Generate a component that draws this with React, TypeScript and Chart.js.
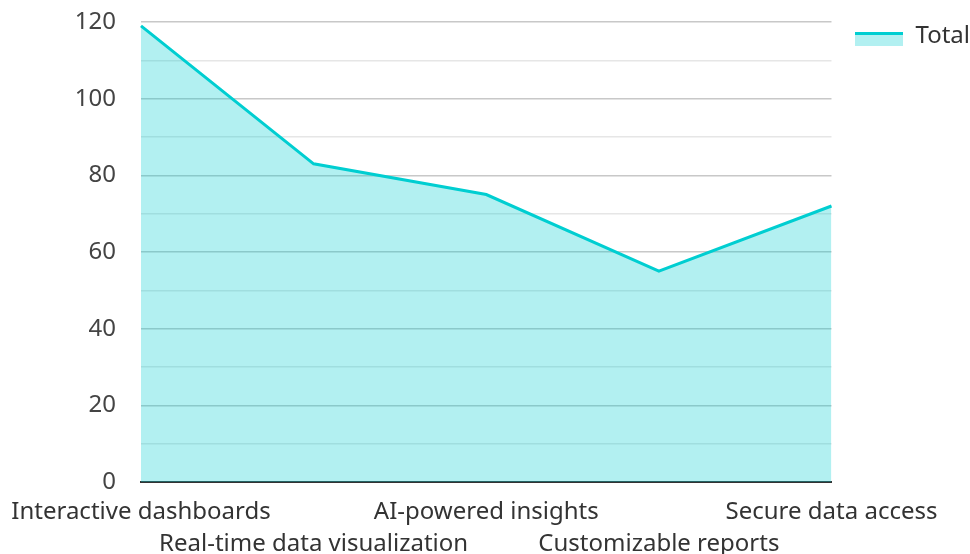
import React, { useEffect, useRef } from "react";
import { Chart, registerables } from "chart.js";

Chart.register(...registerables);

const categories = [
  "Interactive dashboards",
  "Real-time data visualization",
  "AI-powered insights",
  "Customizable reports",
  "Secure data access",
];
const totalValues = [119, 83, 75, 55, 72];
const seriesLabel = "Total";
const yMin = 0;
const yMax = 120;
const yStep = 10;
const yLabelStep = 20;

const FONT = "'Noto Sans', sans-serif";
const FONT_SIZE = 24;
const LINE_COLOR = "#00CED1";
const FILL_COLOR = "rgba(0,206,209,0.3)";

function legendSwatch(): HTMLCanvasElement {
  const c = document.createElement("canvas");
  c.width = 48;
  c.height = 20;
  const g = c.getContext("2d")!;
  g.fillStyle = FILL_COLOR;
  g.fillRect(0, 6, 48, 14);
  g.fillStyle = LINE_COLOR;
  g.fillRect(0, 6, 48, 3);
  return c;
}

export default function App() {
  const ref = useRef<HTMLCanvasElement | null>(null);
  useEffect(() => {
    document.body.style.margin = "0";
    const ctx = ref.current!;
    const swatch = legendSwatch();
    const chart = new Chart(ctx, {
      type: "line",
      data: {
        labels: categories,
        datasets: [
          {
            label: seriesLabel,
            data: totalValues,
            borderColor: LINE_COLOR,
            backgroundColor: FILL_COLOR,
            borderWidth: 3,
            fill: "origin",
            pointRadius: 0,
            tension: 0,
          },
        ],
      },
      options: {
        animation: false,
        responsive: false,
        maintainAspectRatio: false,
        layout: { padding: { top: 0, right: -10, left: 0, bottom: 0 } },
        plugins: {
          legend: {
            position: "right",
            align: "start",
            labels: {
              font: { family: FONT, size: FONT_SIZE },
              color: "#333333",
              usePointStyle: true,
              pointStyleWidth: 48,
              boxHeight: 14,
              padding: 24,
              generateLabels: () => [
                {
                  text: seriesLabel,
                  pointStyle: swatch,
                  fillStyle: FILL_COLOR,
                  strokeStyle: LINE_COLOR,
                  lineWidth: 0,
                  hidden: false,
                  datasetIndex: 0,
                  fontColor: "#333333",
                },
              ],
            },
          },
          tooltip: { enabled: false },
        },
        scales: {
          x: {
            grid: { display: false },
            border: { display: true, color: "#333333", width: 2 },
            afterFit: (s: any) => {
              s.height = s.height - 12;
              s.paddingLeft = 141;
            },
            ticks: {
              autoSkip: false,
              maxRotation: 0,
              minRotation: 0,
              color: "#333333",
              font: { family: FONT, size: FONT_SIZE, lineHeight: 1.333 },
              padding: 6,
              callback: (v: any, i: number) =>
                i % 2 === 1 ? ["", categories[i]] : categories[i],
            },
          },
          y: {
            min: yMin,
            max: yMax,
            border: { display: false },
            afterFit: (s: any) => {
              s.paddingTop = 22;
            },
            grid: {
              color: (c: any) =>
                c.tick && c.tick.value % yLabelStep === 0 ? "#c8c8c8" : "#e6e6e6",
              lineWidth: 1.5,
              drawTicks: false,
            },
            ticks: {
              stepSize: yStep,
              color: "#444444",
              padding: 25,
              font: { family: FONT, size: FONT_SIZE },
              callback: (v: any) => (Number(v) % yLabelStep === 0 ? String(v) : ""),
            },
          },
        },
      },
    });
    return () => chart.destroy();
  }, []);
  return (
    <div style={{ width: 970, height: 554 }}>
      <canvas ref={ref} width={970} height={554} style={{ display: "block" }} />
    </div>
  );
}
